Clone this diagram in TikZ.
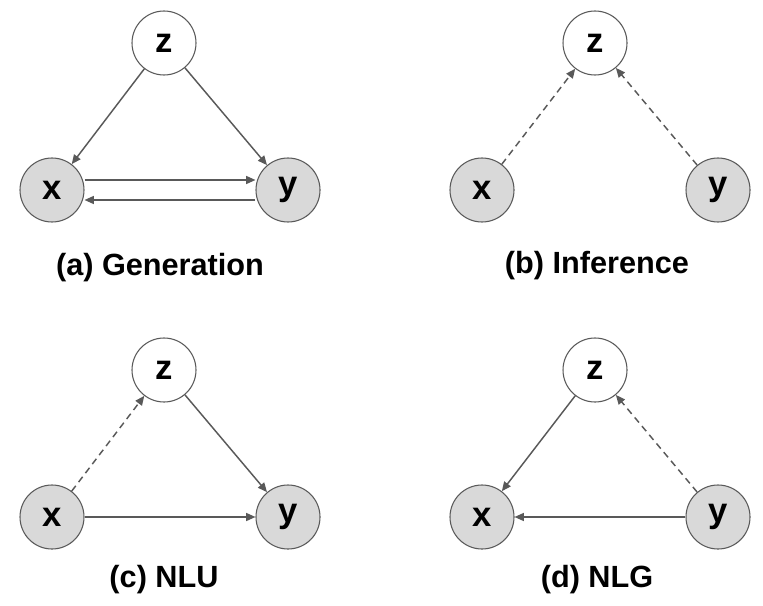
\documentclass[tikz,border=0pt]{standalone}
\usepackage{fontspec}
\setmainfont{Liberation Sans}
\usetikzlibrary{arrows.meta}
\begin{document}
\begin{tikzpicture}[x=0.75pt,y=-0.75pt,
  v/.style={circle,draw=black!65,line width=0.8pt,minimum size=48pt,inner sep=0pt,font=\fontsize{26}{26}\selectfont\bfseries},
  obs/.style={v,fill=black!15},
  lat/.style={v,fill=white},
  ar/.style={draw=black!65,line width=1.1pt,-{Triangle[length=7pt,width=6pt]}},
  da/.style={ar,dash pattern=on 5pt off 3.5pt},
  lab/.style={font=\fontsize{23}{23}\selectfont\bfseries}]
\useasboundingbox (0,0) rectangle (763,606);
% (a)
\node[lat] (az) at (164,43) {z};
\node[obs] (ax) at (52,190) {x};
\node[obs] (ay) at (288,190) {y};
\draw[ar] (az) -- (ax);
\draw[ar] (az) -- (ay);
\draw[ar] ([yshift=7.5pt]ax.east) -- ([yshift=7.5pt]ay.west);
\draw[ar] ([yshift=-7.5pt]ay.west) -- ([yshift=-7.5pt]ax.east);
\node[lab] (al) at (160,268) {(a) Generation};
% (b)
\node[lat] (bz) at (595,43) {z};
\node[obs] (bx) at (482,190) {x};
\node[obs] (by) at (718,190) {y};
\draw[da] (bx) -- (bz);
\draw[da] (by) -- (bz);
\node[lab] (bl) at (597,266) {(b) Inference};
% (c)
\node[lat] (cz) at (164,370) {z};
\node[obs] (cx) at (52,517) {x};
\node[obs] (cy) at (288,517) {y};
\draw[da] (cx) -- (cz);
\draw[ar] (cz) -- (cy);
\draw[ar] (cx) -- (cy);
\node[lab] (cl) at (164,580) {(c) NLU};
% (d)
\node[lat] (dz) at (595,370) {z};
\node[obs] (dx) at (482,517) {x};
\node[obs] (dy) at (718,517) {y};
\draw[ar] (dz) -- (dx);
\draw[da] (dy) -- (dz);
\draw[ar] (dy) -- (dx);
\node[lab] (dl) at (597,580) {(d) NLG};
\end{tikzpicture}
\end{document}
